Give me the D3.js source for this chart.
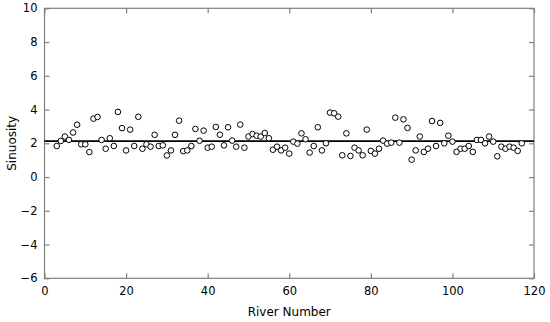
<!DOCTYPE html>
<html>
<head>
<meta charset="utf-8">
<script src="https://cdn.jsdelivr.net/npm/d3@7"></script>
<style>
html,body{margin:0;padding:0;background:#fff;}
svg{display:block;}
text{font-family:"DejaVu Sans",Verdana,sans-serif;fill:#000;}
</style>
</head>
<body>
<svg id="chart" width="550" height="322"></svg>
<script>
const riverStart = 3;
const sinuosity = [
  1.84,2.14,2.40,2.20,2.64,3.10,1.94,1.94,1.48,3.46,
  3.56,2.20,1.68,2.30,1.84,3.86,2.90,1.58,2.81,1.84,
  3.57,1.68,1.94,1.80,2.50,1.84,1.88,1.28,1.58,2.50,
  3.34,1.54,1.58,1.84,2.85,2.15,2.75,1.74,1.80,2.97,
  2.51,1.88,2.95,2.16,1.80,3.11,1.74,2.40,2.55,2.45,
  2.40,2.61,2.30,1.62,1.80,1.58,1.74,1.39,2.10,1.98,
  2.59,2.24,1.45,1.84,2.95,1.58,2.00,3.82,3.78,3.58,
  1.29,2.59,1.25,1.74,1.58,1.29,2.81,1.55,1.39,1.68,
  2.16,1.98,2.04,3.52,2.04,3.42,2.91,1.03,1.58,2.40,
  1.49,1.68,3.32,1.84,3.21,2.00,2.45,2.10,1.49,1.68,
  1.68,1.84,1.49,2.20,2.20,2.00,2.40,2.10,1.23,1.80,
  1.68,1.80,1.74,1.55,2.00
];
const rivers = sinuosity.map((_, i) => riverStart + i);
const meanLine = 2.13;
const xTicks = [0,20,40,60,80,100,120];
const yTicks = [-6,-4,-2,0,2,4,6,8,10];
const xLabel = "River Number";
const yLabel = "Sinuosity";

const svg = d3.select("#chart");
const L = 44.5, R = 534, T = 8.3, B = 278.3;
const x = d3.scaleLinear().domain([0,120]).range([L,R]);
const y = d3.scaleLinear().domain([-6,10]).range([B,T]);
const axisColor = "#808080";

// frame
svg.append("rect").attr("x",L).attr("y",T).attr("width",R-L).attr("height",B-T)
  .attr("fill","none").attr("stroke",axisColor).attr("stroke-width",1.2);

function styleAxis(g){
  g.select(".domain").remove();
  g.selectAll(".tick line").attr("stroke",axisColor).attr("stroke-width",1.2);
  g.selectAll(".tick text").attr("font-size","11.5px").attr("fill","#000")
    .style("font-family","'DejaVu Sans',Verdana,sans-serif");
}

svg.append("g").attr("transform",`translate(0,${B})`)
  .call(d3.axisBottom(x).tickValues(xTicks).tickSize(-5).tickPadding(9).tickFormat(d3.format("d")))
  .call(styleAxis);
svg.append("g").attr("transform",`translate(0,${T})`)
  .call(d3.axisTop(x).tickValues(xTicks).tickSize(-5).tickFormat(""))
  .call(styleAxis);
svg.append("g").attr("transform",`translate(${L},0)`)
  .call(d3.axisLeft(y).tickValues(yTicks).tickSize(-5).tickPadding(7).tickFormat(d3.format("d")))
  .call(styleAxis);
svg.append("g").attr("transform",`translate(${R},0)`)
  .call(d3.axisRight(y).tickValues(yTicks).tickSize(-5).tickFormat(""))
  .call(styleAxis);

// mean line
svg.append("line")
  .attr("x1",x(0)).attr("x2",x(120))
  .attr("y1",y(meanLine)).attr("y2",y(meanLine))
  .attr("stroke","#000").attr("stroke-width",1.8);

// points
svg.append("g").selectAll("circle").data(sinuosity).join("circle")
  .attr("cx",(d,i)=>x(rivers[i]))
  .attr("cy",d=>y(d))
  .attr("r",2.8)
  .attr("fill","#fff")
  .attr("stroke","#000")
  .attr("stroke-width",1);

// labels
svg.append("text").attr("x",(L+R)/2).attr("y",316)
  .attr("text-anchor","middle").attr("font-size","12px").text(xLabel);
svg.append("text")
  .attr("transform",`translate(16,${(T+B)/2}) rotate(-90)`)
  .attr("text-anchor","middle").attr("font-size","12px").text(yLabel);
</script>
</body>
</html>
